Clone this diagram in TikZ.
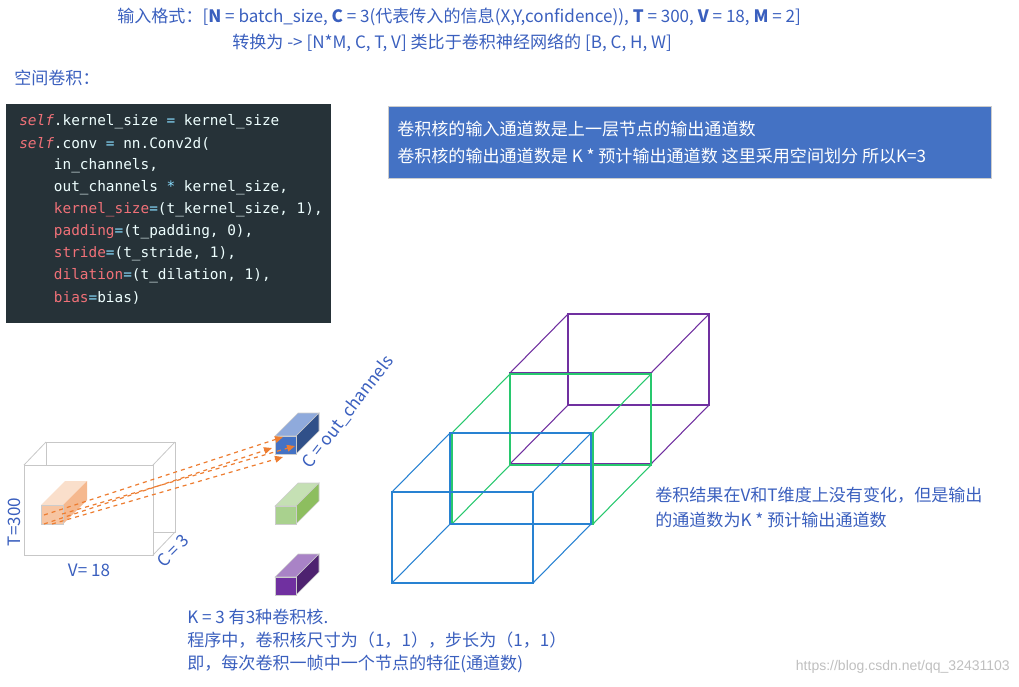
\documentclass[tikz,border=0pt]{standalone}
\usepackage{fontspec}
\setmainfont{Noto Sans CJK SC}
\newfontfamily\codefont{DejaVu Sans Mono}
\newfontfamily\wmfont{Liberation Sans}
\usetikzlibrary{arrows.meta}
\definecolor{tblue}{RGB}{58,95,190}
\definecolor{codebg}{RGB}{38,50,56}
\definecolor{cw}{RGB}{238,255,255}
\definecolor{cr}{RGB}{240,113,120}
\definecolor{cc}{RGB}{137,221,255}
\definecolor{boxblue}{RGB}{68,114,196}
\definecolor{cubeblue}{RGB}{40,130,210}
\definecolor{cubegreen}{RGB}{40,200,110}
\definecolor{cubepurple}{RGB}{112,48,160}
\definecolor{korange}{RGB}{237,125,49}
\definecolor{gfront}{RGB}{169,209,142}
\definecolor{gtop}{RGB}{197,224,180}
\definecolor{gside}{RGB}{141,190,95}
\tikzset{
  txt/.style={anchor=west,inner sep=0,text=tblue,font=\fontsize{12.8}{15}\selectfont},
  code/.style={anchor=west,inner sep=0,text=cw,font=\codefont\fontsize{10.8}{13}\selectfont},
  gray/.style={draw=black!22,line width=0.6pt},
  dasharr/.style={korange,dashed,line width=0.9pt,-{Triangle[length=6pt,width=5pt]}}
}
\newcommand{\bigcube}[5]{% x y w h color
  \draw[#5,line width=0.8pt] (#1,#2) rectangle ++(#3,#4);
  \draw[#5,line width=0.8pt] (#1+58,#2-59) rectangle ++(#3,#4);
  \draw[#5,line width=0.8pt] (#1,#2) -- ++(58,-59) (#1+#3,#2) -- ++(58,-59)
     (#1,#2+#4) -- ++(58,-59) (#1+#3,#2+#4) -- ++(58,-59);}
\newcommand{\smallcube}[5]{% x y front top side
  \fill[#4,draw=black!20] (#1,#2) -- ++(23,-23) -- ++(21,0) -- ++(-23,23) -- cycle;
  \fill[#5,draw=black!20] (#1+21,#2) -- ++(23,-23) -- ++(0,18) -- ++(-23,23) -- cycle;
  \fill[#3,draw=black!20] (#1,#2) rectangle ++(21,18);}
\begin{document}
\begin{tikzpicture}[x=0.75pt,y=-0.75pt]
\useasboundingbox (0,0) rectangle (1019,686);
\node[txt] (l1) at (117,17) {输入格式：[\textbf{N} = batch\_size, \textbf{C} = 3(代表传入的信息(X,Y,confidence)), \textbf{T} = 300, \textbf{V} = 18, \textbf{M} = 2]};
\node[txt] (l2) at (232,43) {转换为 -> [N*M, C, T, V] 类比于卷积神经网络的 [B, C, H, W]};
\node[txt] (l3) at (14,78) {空间卷积：};
% code
\fill[codebg] (6,104) rectangle (331,323);
\node[code] (c1) at (19,122) {\textcolor{cr}{\itshape self}.kernel\_size \textcolor{cc}{=} kernel\_size};
\node[code] (c2) at (19,144) {\textcolor{cr}{\itshape self}.conv \textcolor{cc}{=} nn.Conv2d(};
\node[code] (c3) at (19,166) {\phantom{xxxx}in\_channels,};
\node[code] (c4) at (19,188) {\phantom{xxxx}out\_channels \textcolor{cc}{*} kernel\_size,};
\node[code] (c5) at (19,210) {\phantom{xxxx}\textcolor{cr}{kernel\_size}\textcolor{cc}{=}(t\_kernel\_size, 1),};
\node[code] (c6) at (19,232) {\phantom{xxxx}\textcolor{cr}{padding}\textcolor{cc}{=}(t\_padding, 0),};
\node[code] (c7) at (19,254) {\phantom{xxxx}\textcolor{cr}{stride}\textcolor{cc}{=}(t\_stride, 1),};
\node[code] (c8) at (19,276) {\phantom{xxxx}\textcolor{cr}{dilation}\textcolor{cc}{=}(t\_dilation, 1),};
\node[code] (c9) at (19,298) {\phantom{xxxx}\textcolor{cr}{bias}\textcolor{cc}{=}bias)};
% blue box
\fill[boxblue,draw=black!20] (388,106) rectangle (991,178);
\node[txt,text=white] (b1) at (397,129) {卷积核的输入通道数是上一层节点的输出通道数};
\node[txt,text=white] (b2) at (397,156) {卷积核的输出通道数是 K * 预计输出通道数 这里采用空间划分 所以K=3};
% big cubes
\bigcube{510}{373}{141}{91}{cubepurple}
\bigcube{452}{433}{141}{91}{cubegreen}
\bigcube{392}{492}{141}{91}{cubeblue}
\node[txt] (r1) at (655,495) {卷积结果在V和T维度上没有变化，但是输出};
\node[txt] (r2) at (655,520) {的通道数为K * 预计输出通道数};
% input cube
\draw[gray] (46,442) rectangle (175,532);
\fill[white] (24,465) rectangle (153,555);
\draw[gray] (24,465) rectangle (153,555);
\draw[gray] (24,465) -- (46,442) (153,465) -- (175,442) (153,555) -- (175,532);
\fill[korange!25] (41,505) -- (65,481) -- (87,481) -- (63,505) -- cycle;
\fill[korange!55] (63,505) -- (87,481) -- (87,500) -- (63,524) -- cycle;
\fill[korange!45,draw=black!20] (41,505) rectangle (63,524);
\node[txt,rotate=90,anchor=center] (tl) at (14,522) {T=300};
\node[txt,anchor=center] (vl) at (89,570) {V= 18};
\node[txt,rotate=45,anchor=center] (cl) at (173,551) {C = 3};
% small cubes
\smallcube{275}{436}{boxblue}{boxblue!60}{boxblue!70!black}
\smallcube{275}{506}{gfront}{gtop}{gside}
\smallcube{275}{577}{cubepurple}{cubepurple!60}{cubepurple!70!black}
\node[txt,rotate=52,anchor=center] (co) at (348,412) {C = out\_channels};
% arrows
\coordinate (s1) at (44,515); \coordinate (e1) at (283,437);
\coordinate (s2) at (44,524); \coordinate (e2) at (272,448);
\coordinate (s3) at (62,514); \coordinate (e3) at (295,446);
\coordinate (s4) at (52,524); \coordinate (e4) at (283,457);
\draw[dasharr] (s1) -- (e1);
\draw[dasharr] (s2) -- (e2);
\draw[dasharr] (s3) -- (e3);
\draw[dasharr] (s4) -- (e4);
% bottom text
\node[txt] (k1) at (187,617) {K = 3 有3种卷积核.};
\node[txt] (k2) at (187,640) {程序中，卷积核尺寸为（1，1），步长为（1，1）};
\node[txt] (k3) at (187,664) {即，每次卷积一帧中一个节点的特征(通道数)};
\node[anchor=east,inner sep=0,text=black!25,font=\wmfont\fontsize{10.5}{12}\selectfont] (wm) at (1010,667) {https://blog.csdn.net/qq\_32431103};
\end{tikzpicture}
\end{document}
